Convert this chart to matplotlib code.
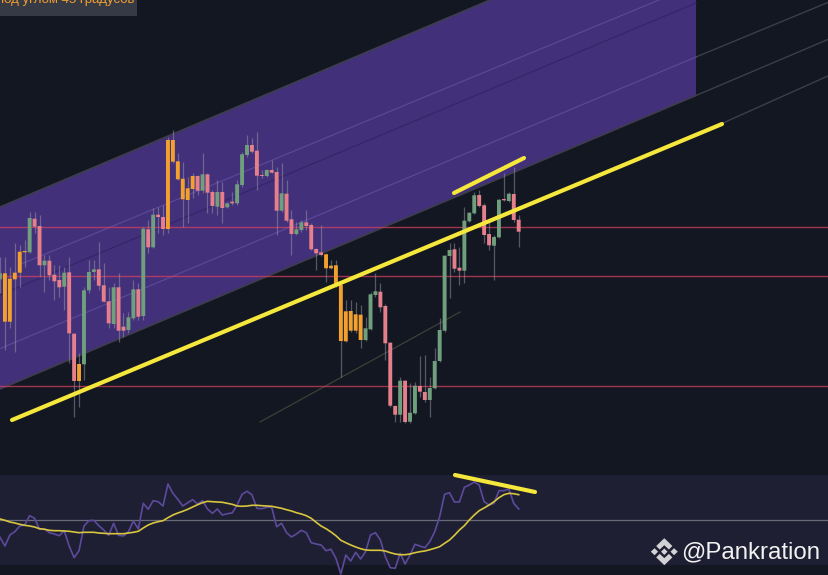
import matplotlib
matplotlib.use("Agg")
import matplotlib.pyplot as plt
from matplotlib.patches import Polygon, Rectangle
import numpy as np

# candles, y in chart pixels (top of image = 0)
body_top = [273.3, 273.3, 278.7, 272.7, 251.7, 251, 218, 218.7, 226, 260.7, 260.7, 274.7, 280, 272.7, 272.3, 333.7,
            364, 290.3, 272, 269.3, 269.3, 285.3, 301.3, 287.3, 287.3, 326.7, 317.3, 289.3, 289.3, 228.7, 229.3,
            214.7, 214.7, 217, 140, 140, 161.3, 178.7, 188.3, 176, 176, 174.3, 174.3, 192, 192, 192, 203.3, 201.7,
            184.3, 154.3, 145, 145, 150.7, 175, 170, 170, 172, 193.3, 193.7, 219.3, 229.3, 222.3, 222.3, 225, 249,
            252.3, 254.3, 265.7, 265.3, 285, 311.3, 311, 314.3, 314.7, 328.3, 294.3, 291.3, 291.7, 306, 342.7, 406,
            380.7, 380.7, 412.7, 385.7, 386, 392, 388, 361, 330, 255.7, 250, 249.3, 267.7, 220.7, 212.7, 195.3, 195,
            205.3, 234, 237, 199.7, 199, 193.7, 194, 219.7]
body_bot = [279.3, 321.7, 321.7, 279.3, 272.7, 252.3, 252.3, 226.7, 265.3, 265.3, 275.3, 281.3, 287.3, 286.7, 333.3,
            381, 381, 364.3, 290.3, 272, 285.7, 301.7, 323.3, 324, 330.7, 330.7, 330, 318.3, 316.7, 316, 247.3,
            247.3, 217, 229, 229, 161.7, 179.3, 199.3, 200, 189, 190.7, 190.7, 192.7, 206, 206.7, 208, 207.3, 203.3,
            203.3, 185, 155, 151.7, 175.7, 176, 176, 172.7, 210.7, 210.7, 220.7, 234, 234, 230, 226, 249.3, 253.3,
            255, 268.3, 268.3, 285, 341, 341.3, 330.7, 330.7, 340, 340, 329.3, 295, 307.3, 343.3, 405.7, 414.7,
            414.7, 422, 421.7, 413.3, 391.7, 400, 400, 388.3, 361, 330.7, 256, 268.7, 270.7, 270.7, 221.3, 213.3,
            206, 235, 245.3, 245.7, 237.3, 200.3, 201, 220, 231.7]
wick_top = [256.7, 256.7, 266.7, 243.3, 245, 240, 211.7, 211.7, 215, 255, 255, 265, 265, 266.7, 256.7, 333.3, 353.3,
            286.7, 260, 260, 241.7, 263.3, 286.7, 283.3, 273.3, 313.3, 311.7, 280, 283.3, 226.7, 220, 208.3, 207.3,
            205, 136.7, 130, 153.3, 161.7, 176.7, 173.3, 175, 153.3, 173.3, 190, 180, 181.7, 201.7, 191.7, 180,
            151.7, 135, 138.3, 131.7, 170, 169.3, 160, 166.7, 163.3, 180, 210, 221.7, 220, 210, 223.3, 248.3, 225,
            253.3, 260, 260, 283.3, 300, 300, 301.7, 305, 316.7, 291.7, 273.3, 283.3, 304, 341.7, 405, 376.7, 380,
            383.3, 381.7, 355.7, 355, 376.7, 348.3, 318.3, 255, 243.3, 243.3, 246.7, 206.7, 211.7, 191.7, 190,
            203.3, 221.7, 235, 199.3, 173.3, 191.7, 166.7, 215]
wick_bot = [293.3, 350, 328.3, 351.7, 286.7, 266.7, 253.3, 233.3, 276.7, 291.7, 280, 300, 296.7, 310, 363.3, 416.7,
            406.7, 380, 293.3, 280, 290, 301.7, 328.3, 328.3, 341.7, 336.7, 333.3, 320, 320, 320, 253.3, 248.3,
            233.3, 235, 233.3, 163.3, 180, 226.7, 223.3, 198.3, 195, 193.3, 213.3, 213.3, 215, 222.7, 208.3, 205,
            205, 186.7, 156.7, 153.3, 190, 178.3, 176.7, 173.3, 235, 211.7, 221.7, 255, 235, 231.7, 230, 250, 270,
            256, 281.7, 269.3, 286.7, 376.7, 341.7, 331.7, 333.3, 348.3, 340.7, 330, 296.7, 311.7, 360, 406.7, 421.7,
            421.7, 422.7, 422.7, 414, 396.7, 401.7, 416.7, 389, 362, 331.7, 298.3, 271.7, 285, 283.3, 221.7, 214,
            206.7, 243.3, 250, 280, 238.3, 200.7, 201.7, 221.7, 246.7]
# g green, p pink, o orange
candle_kind = (
    "gooooogppgpppgppogggpppgppggpgpgpp"
    "oooooopgppgpgpgggpppgppgppggpppp"
    "oooooooogggppppgpggppgggggppgggpppggpgpp"
)

rsi = [537.3, 546, 535, 531.7, 526, 525, 515.7, 518.3, 529.3, 529, 532.7, 534, 535.7, 530.7, 546, 557.7, 550.7, 526,
       520.7, 520.3, 525.7, 530, 535.3, 523.3, 535.3, 536, 531.7, 521, 529, 503.3, 509.3, 500.7, 501.7, 506, 484,
       493.3, 499.3, 506, 502.7, 499.7, 504, 500.7, 509, 513.3, 509, 515, 513.7, 513, 505, 494.3, 491.3, 494.7,
       508.3, 508.7, 507.3, 507.3, 526.7, 523.3, 532.7, 537, 534, 530.3, 532.7, 542.7, 544, 545, 550.7, 549.3,
       558.3, 574, 555, 561, 552.3, 559, 551.7, 535, 532.7, 540, 556.7, 567.7, 568.3, 553.3, 564, 555, 544.3, 546,
       547.7, 541.7, 531.7, 516.7, 494.3, 492.7, 502, 502, 487.3, 485, 482, 485, 501.7, 505, 503.3, 490.7, 490.7,
       489, 503.3, 509]
rsi_ma = [519, 520.3, 522, 523, 524.3, 525.3, 526, 527, 528.7, 529.3, 530.3, 530.7, 530.7, 531, 531.3, 532, 532.7,
          532.3, 532.3, 532.3, 533, 533.3, 533.7, 533.7, 533.7, 533.7, 533, 532.3, 531.3, 528, 525, 523, 521.7,
          520.7, 517.7, 515, 513, 511.3, 509.3, 507, 504.7, 502.7, 501.3, 501.7, 502, 502.3, 503.3, 504.3, 506,
          506.3, 506, 505.3, 505.3, 505.7, 506, 506.3, 507.3, 508.3, 509.7, 511, 512.7, 514, 515.7, 518.3, 522.3,
          526, 528.7, 532, 535.7, 540.3, 542.7, 545, 547, 548.7, 550, 550.3, 550.3, 550.3, 551, 552.7, 554, 554.7,
          554.7, 554, 552.7, 551.7, 551, 549.7, 548.3, 546.7, 543.3, 540, 535.3, 530, 525.7, 520, 515, 510.7, 508,
          505, 501.7, 497.7, 494.7, 493.3, 493.7, 494.7]

h_levels = [226.5, 276, 386]
rsi_mid = 520

BG = "#131722"
PANEL = "#1e1f33"
PURPLE = "#43307b"
COLORS = {"g": "#6f9f7c", "p": "#e57f8b", "o": "#f2a02e"}
YELLOW = "#f5e73c"
STEP = 4.94

xs = np.arange(len(body_top)) * STEP

fig = plt.figure(figsize=(8.29, 5.75), dpi=100, facecolor=BG)
ax = fig.add_axes([0, 0, 1, 1])
ax.set_xlim(0, 829)
ax.set_ylim(575, 0)
ax.axis("off")

# regression channel
ax.add_patch(Polygon([(0, 389), (696, 95.5), (696, 0), (490, 0), (0, 207)], closed=True,
                     facecolor=PURPLE, edgecolor="none", zorder=1))
ax.plot([0, 696], [389, 95.5], color="#3d3d4c", lw=1.2, zorder=2)
ax.plot([0, 490], [207, 0], color="#3d3d4c", lw=1.2, zorder=2)
ax.plot([696, 829], [95.5, 39], color="#3b3e4b", lw=1, zorder=2)
ax.plot([723, 829], [123, 75.5], color="#3b3e4b", lw=1, zorder=2)
ax.plot([696, 829], [57, 2], color="#3b3e4b", lw=1, zorder=2)
ax.plot([0, 696], [348.6, 57], color="#5a4797", lw=0.9, zorder=2)
ax.plot([20, 700], [264.5, -17], color="#5a4797", lw=0.9, zorder=2)
ax.plot([0, 696], [295, 3], color="#33266a", lw=0.9, zorder=2)
ax.plot([260, 460], [422, 312], color="#3f3f38", lw=0.9, zorder=2)

for y in h_levels:
    ax.axhline(y, color="#d2405e", alpha=0.75, lw=1, zorder=2.5)

# candles
for x, t, b, wt, wb, k in zip(xs, body_top, body_bot, wick_top, wick_bot, candle_kind):
    ax.plot([x, x], [wt, wb], color="#9a9ba8", alpha=0.5, lw=0.9, zorder=3, solid_capstyle="butt")
    ax.bar(x, b - t, bottom=t, width=3.9, color=COLORS[k], linewidth=0, zorder=4, snap=False)

# hand drawn trend lines
for seg in [((12, 420), (722, 124)), ((454, 193), (524, 158))]:
    ax.plot(*zip(*seg), color=YELLOW, lw=3, zorder=6, solid_capstyle="round")

# rsi panel
ax.add_patch(Rectangle((0, 475), 829, 90, facecolor=PANEL, edgecolor="none", zorder=1))
ax.axhline(rsi_mid, color="#6a6b78", lw=0.9, zorder=2)
ax.plot(xs, rsi, color="#5d4a9c", lw=1.2, zorder=3)
ax.plot(xs, rsi_ma, color="#d8c63e", lw=1.2, zorder=4)
ax.plot([455, 535], [475, 492], color=YELLOW, lw=3, zorder=6, solid_capstyle="round")

# clipped label box at the top
ax.add_patch(Rectangle((0, 0), 137, 15.5, facecolor="#363a45", edgecolor="none", zorder=5))
ax.text(135, 3.5, "под углом 45 градусов", color="#f0a030", fontsize=9.5, ha="right", va="baseline",
        family="Liberation Sans", zorder=7)

# watermark
cx, cy = 664.3, 551.7
logo = "#d2d2d6"
s = 13.5
parts = [
    [(-1, 0), (-0.72, -0.26), (-0.46, 0), (-0.72, 0.26)],
    [(1, 0), (0.72, -0.26), (0.46, 0), (0.72, 0.26)],
    [(0, -0.24), (0.24, 0), (0, 0.24), (-0.24, 0)],
    [(0, -1), (0.6, -0.42), (0.34, -0.16), (0, -0.48), (-0.34, -0.16), (-0.6, -0.42)],
    [(0, 1), (0.6, 0.42), (0.34, 0.16), (0, 0.48), (-0.34, 0.16), (-0.6, 0.42)],
]
for p in parts:
    ax.add_patch(Polygon([(cx + s * a, cy + s * b) for a, b in p], closed=True, facecolor=logo,
                         edgecolor="none", zorder=7))
ax.text(681, 552, "@Pankration", color="#f2f2f2", fontsize=17.3, family="Liberation Sans", ha="left",
        va="center", zorder=7)

fig.savefig("out.png", dpi=100, facecolor=BG)
